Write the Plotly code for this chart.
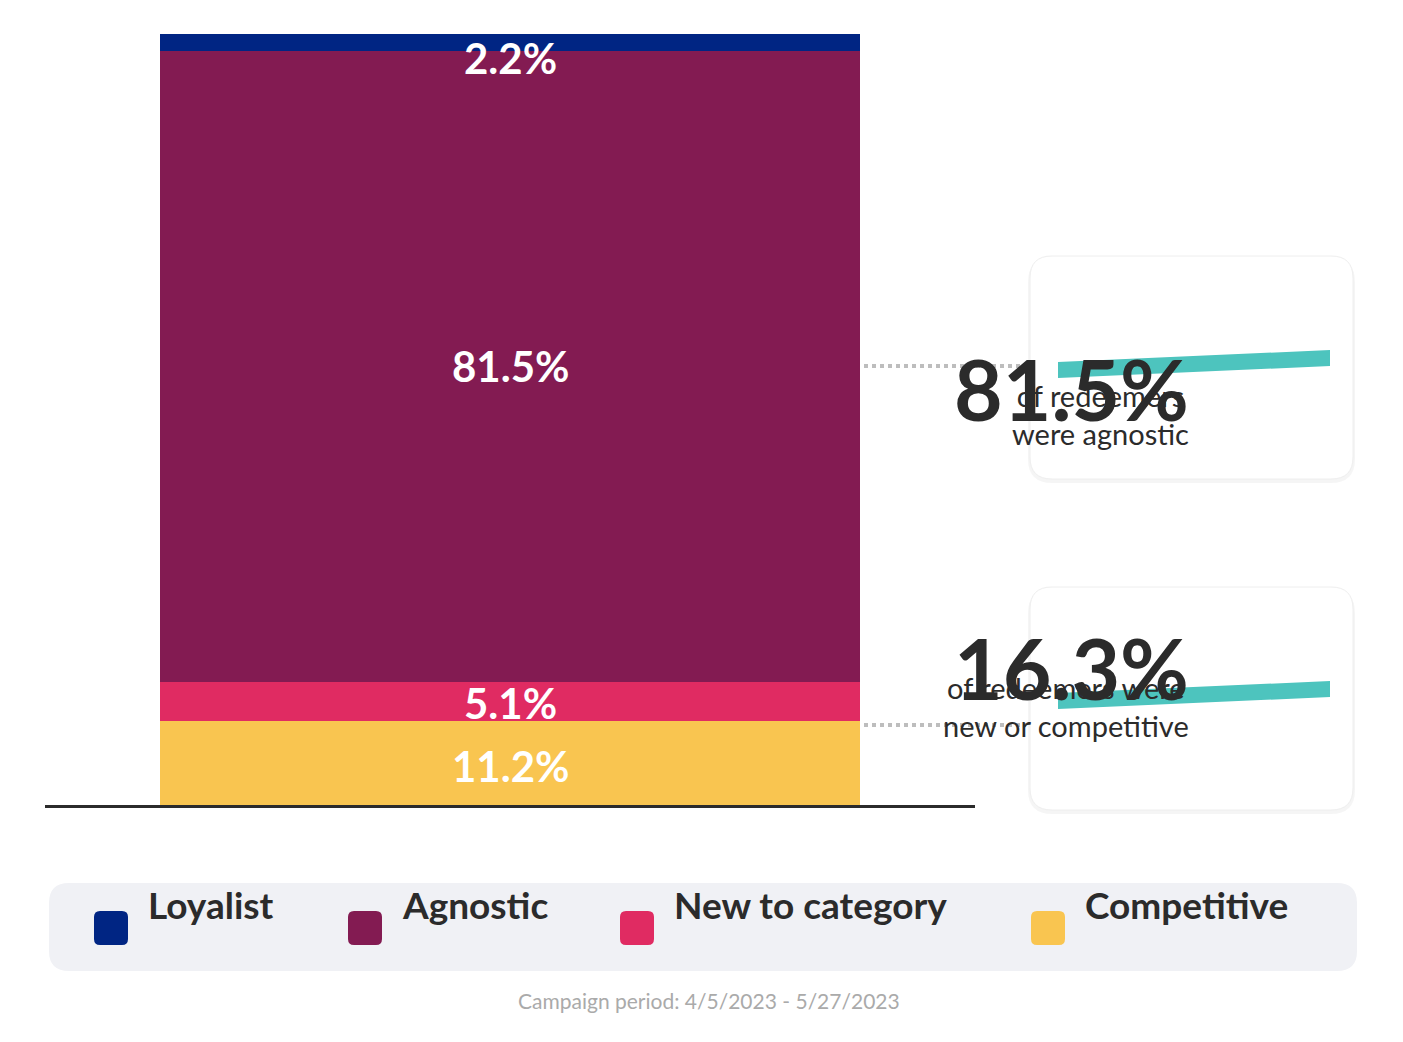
import plotly.graph_objects as go

W, H = 1403, 1042
L, R, T, B = 37, 967, 26, 800  # plot area in pixels

segments = ["Competitive", "New to category", "Agnostic", "Loyalist"]
values = [11.2, 5.1, 81.5, 2.2]
colors = ["#F9C550", "#E02B62", "#831B52", "#002583"]
legend_order = ["Loyalist", "Agnostic", "New to category", "Competitive"]
label_y = [5.4, 13.6, 57.1, 96.9]
callout_values = ["81.5%", "16.3%"]
callout_texts = ["of redeemers<br>were agnostic", "of redeemers were<br>new or competitive"]


def px(x):
    return x / W


def py(y):
    return (H - y) / H


def rounded(x0, y0, x1, y1, r):
    a, b, c, d = px(x0), py(y0), px(x1), py(y1)
    rx, ry = r / W, r / H
    return (f"M {a+rx},{b} L {c-rx},{b} Q {c},{b} {c},{b-ry} L {c},{d+ry} Q {c},{d} {c-rx},{d} "
            f"L {a+rx},{d} Q {a},{d} {a},{d+ry} L {a},{b-ry} Q {a},{b} {a+rx},{b} Z")


fig = go.Figure()
for name, v, c in zip(segments, values, colors):
    fig.add_trace(go.Bar(x=["All"], y=[v], name=name, marker=dict(color=c, line=dict(width=0)),
                         showlegend=False, hoverinfo="skip"))

font = "Lato, Noto Sans, sans-serif"
shapes, annotations = [], []

# baseline
shapes.append(dict(type="line", xref="paper", yref="y", x0=px(L), x1=px(R), y0=0, y1=0,
                   line=dict(color="#2b2b2b", width=6)))

for v, y in zip(values, label_y):
    annotations.append(dict(x="All", y=y, xref="x", yref="y", text=f"<b>{v}%</b>", showarrow=False,
                            font=dict(family=font, size=42, color="white")))

# callouts
boxes = [(248, 471, 358), (579, 802, 717)]
for (top, bot, ly), big, small in zip(boxes, callout_values, callout_texts):
    shapes.append(dict(type="path", xref="paper", yref="paper", path=rounded(1020, top + 2, 1347, bot + 4, 24),
                       fillcolor="rgba(0,0,0,0.04)", line=dict(width=0), layer="below"))
    shapes.append(dict(type="path", xref="paper", yref="paper", path=rounded(1022, top, 1345, bot, 22),
                       fillcolor="white", line=dict(color="#eeeeee", width=1)))
    shapes.append(dict(type="line", xref="paper", yref="paper", x0=px(856), x1=px(1018), y0=py(ly), y1=py(ly),
                       line=dict(color="#bdbdbd", width=4, dash="dot")))
    hy = top + 102
    shapes.append(dict(type="path", xref="paper", yref="paper",
                       path=f"M {px(1050)},{py(hy+4)} L {px(1322)},{py(hy-8)} L {px(1322)},{py(hy+8)} "
                            f"L {px(1050)},{py(hy+20)} Z",
                       fillcolor="#4DC4BE", line=dict(width=0)))
    annotations.append(dict(x=px(1183), y=py(top + 80), xref="paper", yref="paper", text=f"<b>{big}</b>",
                            showarrow=False, font=dict(family=font, size=84, color="#2b2b2b")))
    annotations.append(dict(x=px(1183), y=py(top + 158), xref="paper", yref="paper", text=small,
                            showarrow=False, font=dict(family=font, size=29, color="#2b2b2b")))

# legend
shapes.append(dict(type="path", xref="paper", yref="paper", path=rounded(41, 875, 1349, 963, 20),
                   fillcolor="#F0F1F5", line=dict(width=0), layer="below"))
leg_x = [86, 340, 612, 1023]
cmap = dict(zip(segments, colors))
for name, x in zip(legend_order, leg_x):
    shapes.append(dict(type="path", xref="paper", yref="paper", path=rounded(x, 903, x + 34, 937, 6),
                       fillcolor=cmap[name], line=dict(width=0)))
    annotations.append(dict(x=px(x + 52), y=py(921), xref="paper", yref="paper", text=f"<b>{name}</b>",
                            xanchor="left", showarrow=False, font=dict(family=font, size=37, color="#2b2b2b")))

annotations.append(dict(x=px(701), y=py(1007), xref="paper", yref="paper",
                        text="Campaign period: 4/5/2023 - 5/27/2023", showarrow=False,
                        font=dict(family=font, size=21, color="#aaaaaa")))

fig.update_layout(
    width=W, height=H, barmode="stack", bargap=0.248,
    margin=dict(l=0, r=0, t=0, b=0),
    paper_bgcolor="white", plot_bgcolor="rgba(0,0,0,0)",
    xaxis=dict(visible=False, domain=[L / W, R / W]),
    yaxis=dict(visible=False, range=[0, 100], domain=[(H - B) / H, (H - T) / H]),
    shapes=shapes, annotations=annotations,
)
fig.write_html("out.html")
